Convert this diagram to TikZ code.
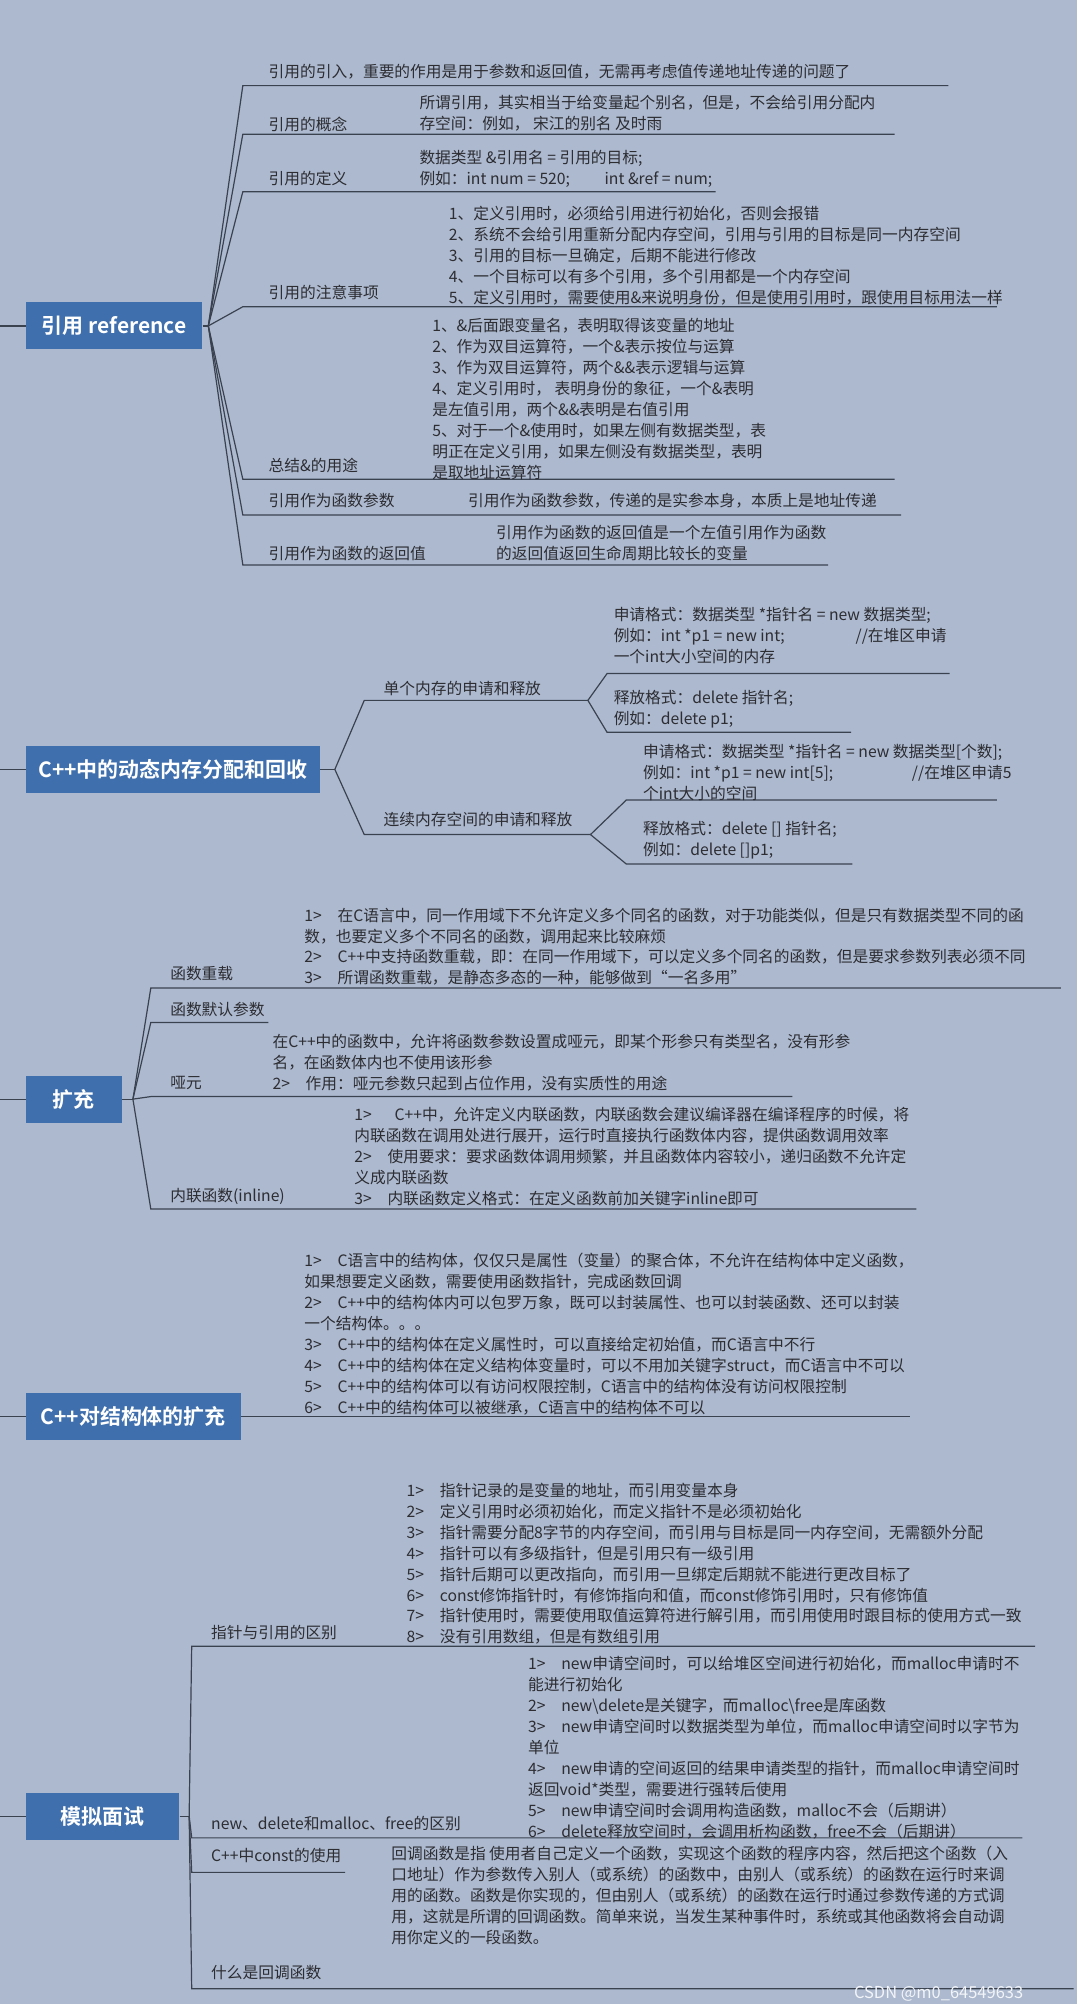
\documentclass[tikz,border=0pt]{standalone}
\usepackage{fontspec}
\setmainfont{Noto Sans CJK SC}[BoldFont={Noto Sans CJK SC Bold}]
\definecolor{bg}{RGB}{172,185,207}
\definecolor{boxc}{RGB}{63,111,173}
\definecolor{ln}{RGB}{58,66,80}
\definecolor{tx}{RGB}{45,45,50}
\tikzset{
  root/.style={fill=boxc,text=white,font=\fontsize{14}{16}\selectfont\bfseries,inner sep=0pt,minimum height=1.1cm,anchor=west},
  lab/.style={text=tx,font=\fontsize{10.5}{13.3}\selectfont,inner sep=0pt,anchor=west},
  cont/.style={text=tx,font=\fontsize{10.5}{14}\selectfont,inner sep=0pt,anchor=north west,align=left},
  br/.style={draw=ln,line width=0.8pt},
}
\begin{document}
\begin{tikzpicture}[x=0.03cm,y=-0.03cm]
\fill[bg] (0,0) rectangle (843,1568);
\useasboundingbox (0,0) rectangle (843,1568);
% ---------- section 1
\node[root,minimum width=138*0.03cm] (r1) at (20,255) {引用 reference};
\coordinate (o1) at (163,255);
\draw[br] (0,255) -- (r1.west) (r1.east) -- (o1);
\foreach \y/\x [count=\i] in {67/742,105/700,150/560,240/780,375/700,403/705,442/648}{
  \coordinate (a\i) at (190,\y); \coordinate (b\i) at (\x,\y);
  \draw[br] (o1) -- (a\i) -- (b\i);}
\node[lab] (l11) at (210,56) {引用的引入，重要的作用是用于参数和返回值，无需再考虑值传递地址传递的问题了};
\node[lab] (l12) at (210,97) {引用的概念};
\node[cont] (c12) at (328,74) {所谓引用，其实相当于给变量起个别名，但是，不会给引用分配内\\存空间：例如，  宋江的别名  及时雨};
\node[lab] (l13) at (210,140) {引用的定义};
\node[cont] (c13) at (328,117) {数据类型  \&引用名 = 引用的目标;\\例如：int num = 520;\hspace{2.2em}int \&ref = num;};
\node[lab] (l14) at (210,229) {引用的注意事项};
\node[cont] (c14) at (351,161) {1、定义引用时，必须给引用进行初始化，否则会报错\\2、系统不会给引用重新分配内存空间，引用与引用的目标是同一内存空间\\3、引用的目标一旦确定，后期不能进行修改\\4、一个目标可以有多个引用，多个引用都是一个内存空间\\5、定义引用时，需要使用\&来说明身份，但是使用引用时，跟使用目标用法一样};
\node[lab] (l15) at (210,364) {总结\&的用途};
\node[cont] (c15) at (338,249) {1、\&后面跟变量名，表明取得该变量的地址\\2、作为双目运算符，一个\&表示按位与运算\\3、作为双目运算符，两个\&\&表示逻辑与运算\\4、定义引用时，  表明身份的象征，一个\&表明\\是左值引用，两个\&\&表明是右值引用\\5、对于一个\&使用时，如果左侧有数据类型，表\\明正在定义引用，如果左侧没有数据类型，表明\\是取地址运算符};
\node[lab] (l16) at (210,392) {引用作为函数参数};
\node[lab] (c16) at (366,392) {引用作为函数参数，传递的是实参本身，本质上是地址传递};
\node[lab] (l17) at (210,433) {引用作为函数的返回值};
\node[cont] (c17) at (388,411) {引用作为函数的返回值是一个左值引用作为函数\\的返回值返回生命周期比较长的变量};
% ---------- section 2
\node[root,minimum width=230*0.03cm] (r2) at (20,602) {C++中的动态内存分配和回收};
\coordinate (o2) at (262,602);
\draw[br] (0,602) -- (r2.west) (r2.east) -- (o2);
\coordinate (s1a) at (285,548); \coordinate (s1b) at (460,548);
\coordinate (s2a) at (285,653); \coordinate (s2b) at (462,653);
\draw[br] (o2) -- (s1a) -- (s1b) (o2) -- (s2a) -- (s2b);
\node[lab] (l21) at (300,539) {单个内存的申请和释放};
\node[lab] (l22) at (300,641) {连续内存空间的申请和释放};
\draw[br] (s1b) -- (475,527) -- (743,527) (s1b) -- (475,573) -- (666,573);
\draw[br] (s2b) -- (490,626) -- (780,626) (s2b) -- (490,676) -- (667,676);
\node[cont] (c21) at (480,475) {申请格式：数据类型  *指针名 = new 数据类型;\\例如：int *p1 = new int;\hspace{4.5em}//在堆区申请\\一个int大小空间的内存};
\node[cont] (c22) at (480,540) {释放格式：delete 指针名;\\例如：delete p1;};
\node[cont] (c23) at (503,582) {申请格式：数据类型 *指针名 = new 数据类型[个数];\\例如：int *p1 = new int[5];\hspace{5em}//在堆区申请5\\个int大小的空间};
\node[cont] (c24) at (503,642) {释放格式：delete [] 指针名;\\例如：delete []p1;};
% ---------- section 3
\node[root,minimum width=75*0.03cm] (r3) at (20,860) {扩充};
\coordinate (o3) at (104,860);
\draw[br] (0,860) -- (r3.west) (r3.east) -- (o3);
\foreach \y/\x [count=\i] in {773/830,800/210,858/620,946/717}{
  \coordinate (e\i) at (118,\y); \coordinate (f\i) at (\x,\y);
  \draw[br] (o3) -- (e\i) -- (f\i);}
\node[lab] (l31) at (133,762) {函数重载};
\node[cont] (c31) at (238,710) {1>\quad 在C语言中，同一作用域下不允许定义多个同名的函数，对于功能类似，但是只有数据类型不同的函\\数，也要定义多个不同名的函数，调用起来比较麻烦\\2>\quad C++中支持函数重载，即：在同一作用域下，可以定义多个同名的函数，但是要求参数列表必须不同\\3>\quad 所谓函数重载，是静态多态的一种，能够做到“一名多用”};
\node[lab] (l32) at (133,790) {函数默认参数};
\node[lab] (l33) at (133,847) {哑元};
\node[cont] (c33) at (213,809) {在C++中的函数中，允许将函数参数设置成哑元，即某个形参只有类型名，没有形参\\名，在函数体内也不使用该形参\\2>\quad 作用：哑元参数只起到占位作用，没有实质性的用途};
\node[lab] (l34) at (133,936) {内联函数(inline)};
\node[cont] (c34) at (277,866) {1>\quad\ \  C++中，允许定义内联函数，内联函数会建议编译器在编译程序的时候，将\\内联函数在调用处进行展开，运行时直接执行函数体内容，提供函数调用效率\\2>\quad 使用要求：要求函数体调用频繁，并且函数体内容较小，递归函数不允许定\\义成内联函数\\3>\quad 内联函数定义格式：在定义函数前加关键字inline即可};
% ---------- section 4
\node[root,minimum width=168*0.03cm] (r4) at (20,1108) {C++对结构体的扩充};
\coordinate (o4) at (196,1108); \coordinate (g4) at (712,1108);
\draw[br] (0,1108) -- (r4.west) (r4.east) -- (g4);
\node[cont] (c41) at (238,980) {1>\quad C语言中的结构体，仅仅只是属性（变量）的聚合体，不允许在结构体中定义函数，\\如果想要定义函数，需要使用函数指针，完成函数回调\\2>\quad C++中的结构体内可以包罗万象，既可以封装属性、也可以封装函数、还可以封装\\一个结构体。。。\\3>\quad C++中的结构体在定义属性时，可以直接给定初始值，而C语言中不行\\4>\quad C++中的结构体在定义结构体变量时，可以不用加关键字struct，而C语言中不可以\\5>\quad C++中的结构体可以有访问权限控制，C语言中的结构体没有访问权限控制\\6>\quad C++中的结构体可以被继承，C语言中的结构体不可以};
% ---------- section 5
\node[root,minimum width=120*0.03cm] (r5) at (20,1421) {模拟面试};
\coordinate (o5) at (148,1421);
\draw[br] (0,1421) -- (r5.west) (r5.east) -- (o5);
\foreach \y/\x [count=\i] in {1288/810,1438/800,1465/270,1556/840}{
  \coordinate (h\i) at (150,\y); \coordinate (k\i) at (\x,\y);
  \draw[br] (o5) -- (h\i) -- (k\i);}
\node[lab] (l51) at (165,1277) {指针与引用的区别};
\node[cont] (c51) at (318,1160) {1>\quad 指针记录的是变量的地址，而引用变量本身\\2>\quad 定义引用时必须初始化，而定义指针不是必须初始化\\3>\quad 指针需要分配8字节的内存空间，而引用与目标是同一内存空间，无需额外分配\\4>\quad 指针可以有多级指针，但是引用只有一级引用\\5>\quad 指针后期可以更改指向，而引用一旦绑定后期就不能进行更改目标了\\6>\quad const修饰指针时，有修饰指向和值，而const修饰引用时，只有修饰值\\7>\quad 指针使用时，需要使用取值运算符进行解引用，而引用使用时跟目标的使用方式一致\\8>\quad 没有引用数组，但是有数组引用};
\node[lab] (l52) at (165,1427) {new、delete和malloc、free的区别};
\node[cont] (c52) at (413,1296) {1>\quad new申请空间时，可以给堆区空间进行初始化，而malloc申请时不\\能进行初始化\\2>\quad new\textbackslash delete是关键字，而malloc\textbackslash free是库函数\\3>\quad new申请空间时以数据类型为单位，而malloc申请空间时以字节为\\单位\\4>\quad new申请的空间返回的结果申请类型的指针，而malloc申请空间时\\返回void*类型，需要进行强转后使用\\5>\quad new申请空间时会调用构造函数，malloc不会（后期讲）\\6>\quad delete释放空间时，会调用析构函数，free不会（后期讲）};
\node[lab] (l53) at (165,1452) {C++中const的使用};
\node[lab] (l54) at (165,1543) {什么是回调函数};
\node[cont] (c54) at (306,1444) {回调函数是指 使用者自己定义一个函数，实现这个函数的程序内容，然后把这个函数（入\\口地址）作为参数传入别人（或系统）的函数中，由别人（或系统）的函数在运行时来调\\用的函数。函数是你实现的，但由别人（或系统）的函数在运行时通过参数传递的方式调\\用，这就是所谓的回调函数。简单来说，当发生某种事件时，系统或其他函数将会自动调\\用你定义的一段函数。};
\node[lab,text=white!85!bg,font=\fontsize{11}{13}\selectfont] (wm) at (668,1560) {CSDN @m0\_64549633};
\end{tikzpicture}
\end{document}
